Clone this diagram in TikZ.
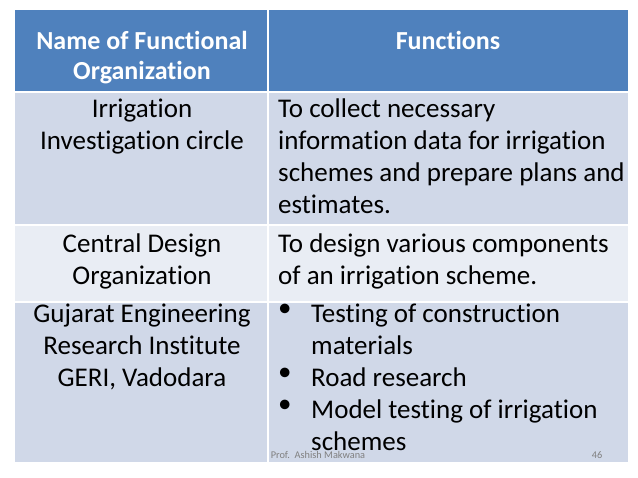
\documentclass[tikz,border=0pt]{standalone}
\usepackage{fontspec}
\setmainfont[Ligatures=NoCommon]{Carlito}
\begin{document}
\begin{tikzpicture}[x=1pt,y=-1pt,
  cell/.style={inner sep=0pt,font=\fontsize{27}{32}\selectfont,anchor=north},
  lcell/.style={cell,align=center},
  rcell/.style={cell,align=left,anchor=north west},
  hdr/.style={cell,align=center,text=white,font=\fontsize{26}{30}\selectfont\bfseries}]
\useasboundingbox (0,0) rectangle (638,478);
\fill[white] (0,0) rectangle (638,478);
\fill[fill={rgb,255:red,79;green,129;blue,189}] (15,10) rectangle (628,92);
\fill[fill={rgb,255:red,208;green,216;blue,232}] (15,92) rectangle (628,225);
\fill[fill={rgb,255:red,233;green,237;blue,244}] (15,225) rectangle (628,302);
\fill[fill={rgb,255:red,208;green,216;blue,232}] (15,302) rectangle (628,462);
\draw[white,line width=1.5pt] (268,10) -- (268,462) (15,92) -- (628,92) (15,225) -- (628,225) (15,302) -- (628,302);
\node[hdr] (h1) at (142,31) {Name of Functional\\Organization};
\node[hdr] (h2) at (448,31) {Functions};
\node[lcell] (l1) at (142,99) {Irrigation\\Investigation circle};
\node[rcell] (r1) at (278,99) {To collect necessary\\information data for irrigation\\schemes and prepare plans and\\estimates.};
\node[lcell] (l2) at (142,234) {Central Design\\Organization};
\node[rcell] (r2) at (278,234) {To design various components\\of an irrigation scheme.};
\node[lcell] (l3) at (142,304) {Gujarat Engineering\\Research Institute\\GERI, Vadodara};
\node[rcell] (b1) at (278,304) {•};
\node[rcell] (t1) at (311,304) {Testing of construction\\materials};
\node[rcell] (b2) at (278,368) {•};
\node[rcell] (t2) at (311,368) {Road research};
\node[rcell] (b3) at (278,400) {•};
\node[rcell] (t3) at (311,400) {Model testing of irrigation\\schemes};
\node[inner sep=0pt,font=\fontsize{10.3}{11}\selectfont,text=gray] (f1) at (318,455) {Prof.\ \ Ashish Makwana};
\node[inner sep=0pt,font=\fontsize{10.3}{11}\selectfont,text=gray] (f2) at (597,455) {46};
\end{tikzpicture}
\end{document}
